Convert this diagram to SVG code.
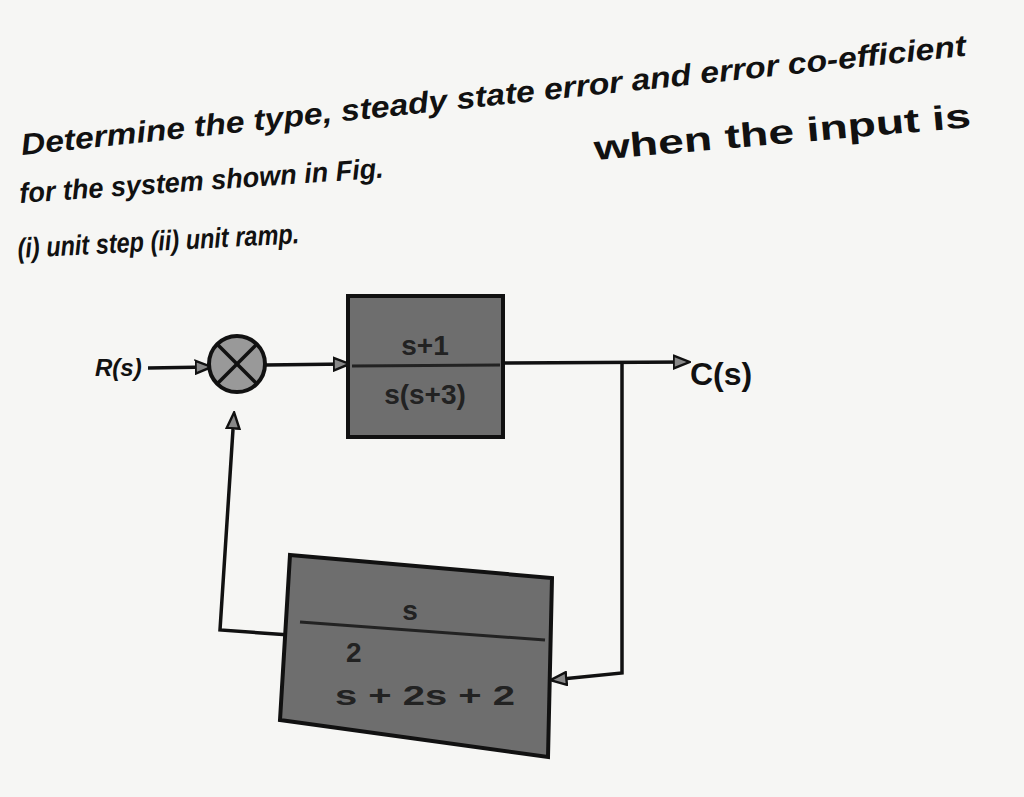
<svg xmlns="http://www.w3.org/2000/svg" width="1024" height="797" viewBox="0 0 1024 797">
<defs>
<marker id="ah" viewBox="0 0 10 10" refX="9" refY="5" markerWidth="18" markerHeight="16" orient="auto" markerUnits="userSpaceOnUse"><path d="M0,1 L10,5 L0,9 z" fill="#888" stroke="#111" stroke-width="1.5"/></marker>
</defs>
<style>
.t{font-family:"Liberation Sans",Arial,sans-serif;font-weight:bold;fill:#111;font-style:italic}
.w{font-family:"Liberation Sans",Arial,sans-serif;font-weight:bold;fill:#111}
.l{fill:none;stroke:#111;stroke-width:3.5}
.blk{fill:#6e6e6e;stroke:#111;stroke-width:4}
.bt{font-family:"Liberation Sans",Arial,sans-serif;font-weight:bold;fill:#222;font-size:28px}
</style>
<rect width="1024" height="797" fill="#f6f6f4"/>
<g id="text">
<text class="t" font-size="30" textLength="950" lengthAdjust="spacingAndGlyphs" transform="translate(22,155) rotate(-6)">Determine the type, steady state error and error co-efficient</text>
<text class="w" font-size="34" textLength="378" lengthAdjust="spacingAndGlyphs" transform="translate(595,160) rotate(-5)">when the input is</text>
<text class="t" font-size="28" textLength="365" lengthAdjust="spacingAndGlyphs" transform="translate(20,203) rotate(-4)">for the system shown in Fig.</text>
<text class="t" font-size="28" textLength="282" lengthAdjust="spacingAndGlyphs" transform="translate(18,258) rotate(-3)">(i) unit step (ii) unit ramp.</text>
</g>
<g id="connectors">
<line class="l" x1="148" y1="368" x2="210" y2="367" marker-end="url(#ah)"/>
<line class="l" x1="265" y1="365" x2="348" y2="364" marker-end="url(#ah)"/>
<line class="l" x1="503" y1="363" x2="688" y2="362" marker-end="url(#ah)"/>
<polyline class="l" points="622,363 622,673 552,680" marker-end="url(#ah)"/>
<polyline class="l" points="290,635 220,630 234,414" marker-end="url(#ah)"/>
</g>
<g id="sum">
<circle cx="237" cy="364" r="28" fill="#999" stroke="#111" stroke-width="4"/>
<line x1="217" y1="344" x2="257" y2="384" stroke="#111" stroke-width="3.5"/>
<line x1="257" y1="344" x2="217" y2="384" stroke="#111" stroke-width="3.5"/>
</g>
<g id="R"><text class="w" font-size="24" x="95" y="376" font-style="italic">R(s)</text></g>
<g id="C"><text class="w" font-size="32" x="690" y="385">C(s)</text></g>
<g id="G">
<rect class="blk" x="348" y="296" width="155" height="141"/>
<line x1="352" y1="366" x2="500" y2="365" stroke="#222" stroke-width="3"/>
<text class="bt" x="425" y="355" text-anchor="middle">s+1</text>
<text class="bt" x="425" y="404" text-anchor="middle">s(s+3)</text>
</g>
<g id="H">
<polygon class="blk" points="290,555 552,578 548,757 280,720"/>
<line x1="300" y1="622" x2="545" y2="640" stroke="#222" stroke-width="3"/>
<text class="bt" x="410" y="620" text-anchor="middle">s</text>
<text class="bt" x="335" y="705" textLength="180" lengthAdjust="spacingAndGlyphs">s + 2s + 2</text>
<text class="bt" font-size="20" x="346" y="662">2</text>
</g>
</svg>
